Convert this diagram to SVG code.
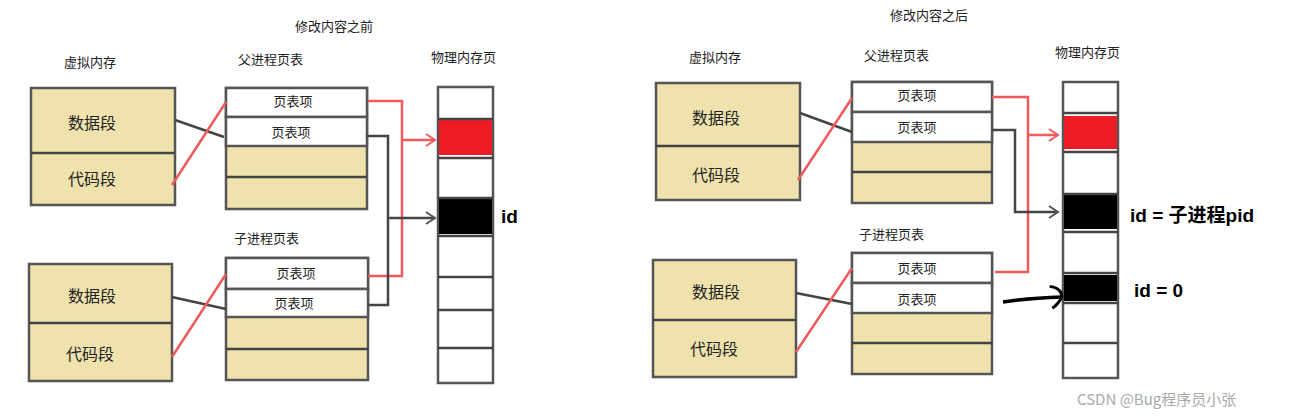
<svg xmlns="http://www.w3.org/2000/svg" width="1294" height="419" viewBox="0 0 1294 419">
<style>
text{font-family:"Noto Sans CJK SC","Liberation Sans",sans-serif;fill:#222}
.t{font-size:13px}
.s{font-size:16px;text-anchor:middle}
.e{font-size:13px;text-anchor:middle}
.b{font-family:"Liberation Sans","Noto Sans CJK SC",sans-serif;font-weight:bold;font-size:19px;fill:#000}
.tan{fill:#efe2ad;stroke:#555;stroke-width:2.5}
.w{fill:#fff;stroke:#555;stroke-width:2.5}
.bl{fill:none;stroke:#444;stroke-width:2.5}
.rd{fill:none;stroke:#f05a5a;stroke-width:2.5}
</style>
<defs>
<marker id="ar" markerWidth="12" markerHeight="14" refX="10" refY="7" orient="auto" markerUnits="userSpaceOnUse"><path d="M1,1 L10,7 L1,13" fill="none" stroke="#f05a5a" stroke-width="2"/></marker>
<marker id="ab" markerWidth="12" markerHeight="14" refX="10" refY="7" orient="auto" markerUnits="userSpaceOnUse"><path d="M1,1 L10,7 L1,13" fill="none" stroke="#555" stroke-width="2"/></marker>
<marker id="ak" markerWidth="16" markerHeight="26" refX="14" refY="13" orient="auto" markerUnits="userSpaceOnUse"><path d="M2,2 Q14,4 14,13 Q10,20 4,24" fill="none" stroke="#000" stroke-width="3"/></marker>
</defs>
<g id="titles">
<text class="t" x="295" y="31">修改内容之前</text>
<text class="t" x="64" y="67">虚拟内存</text>
<text class="t" x="238" y="64">父进程页表</text>
<text class="t" x="431" y="62">物理内存页</text>
<text class="t" x="234" y="243">子进程页表</text>
<text class="b" x="501" y="223">id</text>
<text class="t" x="890" y="20">修改内容之后</text>
<text class="t" x="689" y="62">虚拟内存</text>
<text class="t" x="864" y="60">父进程页表</text>
<text class="t" x="1055" y="57">物理内存页</text>
<text class="t" x="859" y="239">子进程页表</text>
<text class="b" x="1130" y="222">id = 子进程pid</text>
<text class="b" x="1134" y="297">id = 0</text>
<text x="1077" y="405" style="font-size:15px;fill:#aaa">CSDN @Bug程序员小张</text>
</g>
<g id="vm1"><rect class="tan" x="31" y="88" width="144" height="117"/><line class="bl" x1="31" y1="153" x2="175" y2="153"/><text class="s" x="92" y="129">数据段</text><text class="s" x="92" y="185">代码段</text></g>
<g id="vm2"><rect class="tan" x="29" y="264" width="143" height="117"/><line class="bl" x1="29" y1="323" x2="172" y2="323"/><text class="s" x="92" y="302">数据段</text><text class="s" x="90" y="360">代码段</text></g>
<g id="ppt1"><rect class="tan" x="226" y="88" width="141" height="121"/><rect class="w" x="226" y="88" width="141" height="29"/><rect class="w" x="226" y="117" width="141" height="29"/><line class="bl" x1="226" y1="177" x2="367" y2="177"/><text class="e" x="293" y="106">页表项</text><text class="e" x="291" y="137">页表项</text></g>
<g id="cpt1"><rect class="tan" x="226" y="258" width="142" height="122"/><rect class="w" x="226" y="258" width="142" height="31"/><rect class="w" x="226" y="289" width="142" height="28"/><line class="bl" x1="226" y1="349" x2="368" y2="349"/><text class="e" x="296" y="278">页表项</text><text class="e" x="294" y="308">页表项</text></g>
<g id="phys1"><rect class="w" x="438" y="87" width="55" height="296"/><rect x="439" y="120" width="53" height="35" fill="#ed1c24"/><rect x="439" y="199" width="53" height="35" fill="#000"/>
<g class="bl"><line x1="438" y1="119" x2="493" y2="119"/><line x1="438" y1="158" x2="493" y2="158"/><line x1="438" y1="198" x2="493" y2="198"/><line x1="438" y1="236" x2="493" y2="236"/><line x1="438" y1="277" x2="493" y2="277"/><line x1="438" y1="310" x2="493" y2="310"/><line x1="438" y1="348" x2="493" y2="348"/></g></g>
<g id="vm3"><rect class="tan" x="656" y="83" width="144" height="117"/><line class="bl" x1="656" y1="146" x2="800" y2="146"/><text class="s" x="716" y="124">数据段</text><text class="s" x="716" y="181">代码段</text></g>
<g id="vm4"><rect class="tan" x="653" y="260" width="143" height="117"/><line class="bl" x1="653" y1="320" x2="796" y2="320"/><text class="s" x="716" y="298">数据段</text><text class="s" x="714" y="355">代码段</text></g>
<g id="ppt2"><rect class="tan" x="852" y="82" width="140" height="121"/><rect class="w" x="852" y="82" width="140" height="30"/><rect class="w" x="852" y="112" width="140" height="30"/><line class="bl" x1="852" y1="172" x2="992" y2="172"/><text class="e" x="917" y="100">页表项</text><text class="e" x="917" y="132">页表项</text></g>
<g id="cpt2"><rect class="tan" x="852" y="253" width="140" height="121"/><rect class="w" x="852" y="253" width="140" height="30"/><rect class="w" x="852" y="283" width="140" height="30"/><line class="bl" x1="852" y1="343" x2="992" y2="343"/><text class="e" x="917" y="273">页表项</text><text class="e" x="917" y="304">页表项</text></g>
<g id="phys2"><rect class="w" x="1063" y="82" width="55" height="296"/><rect x="1064" y="116" width="53" height="33" fill="#ed1c24"/><rect x="1064" y="194" width="53" height="35" fill="#000"/><rect x="1064" y="275" width="53" height="26" fill="#000"/>
<g class="bl"><line x1="1063" y1="113" x2="1118" y2="113"/><line x1="1063" y1="152" x2="1118" y2="152"/><line x1="1063" y1="194" x2="1118" y2="194"/><line x1="1063" y1="232" x2="1118" y2="232"/><line x1="1063" y1="273" x2="1118" y2="273"/><line x1="1063" y1="303" x2="1118" y2="303"/><line x1="1063" y1="343" x2="1118" y2="343"/></g></g>
<g id="connectors">
<line class="bl" x1="175" y1="120" x2="224" y2="137"/><line class="rd" x1="172" y1="185" x2="226" y2="102"/>
<line class="bl" x1="172" y1="297" x2="226" y2="309"/><line class="rd" x1="172" y1="357" x2="226" y2="274"/>
<polyline class="rd" points="368,101 402,101 402,276 368,276"/><line class="rd" x1="402" y1="140" x2="435" y2="140" marker-end="url(#ar)"/>
<polyline class="bl" points="366,136 388,136 388,305 368,305"/><line class="bl" x1="388" y1="218" x2="435" y2="218" marker-end="url(#ab)"/>
<line class="bl" x1="800" y1="113" x2="852" y2="132"/><line class="rd" x1="798" y1="180" x2="852" y2="98"/>
<line class="bl" x1="796" y1="293" x2="852" y2="304"/><line class="rd" x1="796" y1="352" x2="852" y2="268"/>
<polyline class="rd" points="992,97 1028,97 1028,272 995,272"/><line class="rd" x1="1028" y1="135" x2="1058" y2="135" marker-end="url(#ar)"/>
<polyline class="bl" points="992,130 1015,130 1015,212 1058,212" marker-end="url(#ab)"/>
<path d="M1003,302 Q1030,298 1062,297" fill="none" stroke="#000" stroke-width="3.5" marker-end="url(#ak)"/>
</g>
</svg>
